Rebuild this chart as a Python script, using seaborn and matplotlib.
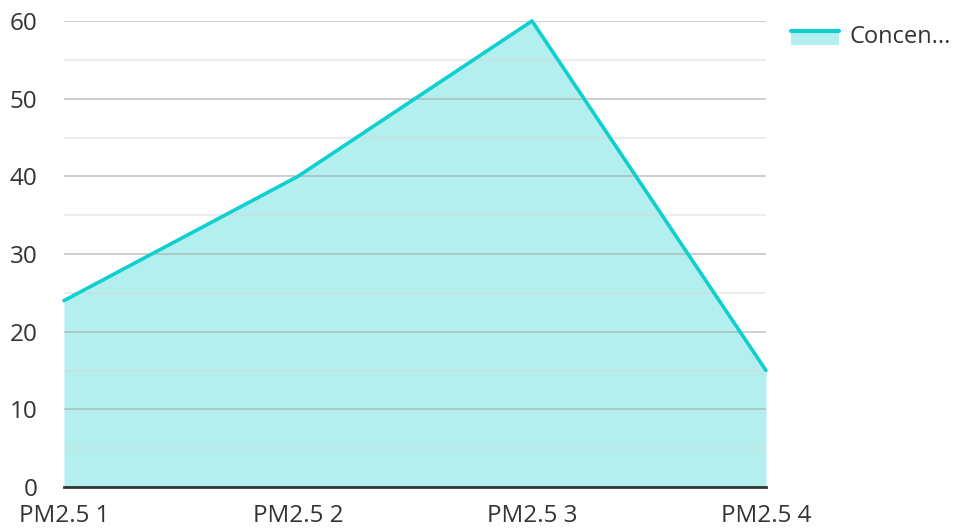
import numpy as np
import pandas as pd
import matplotlib
matplotlib.use('Agg')
import matplotlib.pyplot as plt
from matplotlib.legend_handler import HandlerBase
from matplotlib.patches import Rectangle
from matplotlib.lines import Line2D
import seaborn as sns

# Data
categories = ['PM2.5 1', 'PM2.5 2', 'PM2.5 3', 'PM2.5 4']
concentration = [24, 40, 60, 15]
series_label = 'Concen...'

line_color = '#0fcfcf'
fill_color = '#b2efee'

df = pd.DataFrame({'pos': np.arange(len(categories)), 'value': concentration})

sns.set_theme(style='white')
plt.rcParams['font.family'] = ['Open Sans', 'DejaVu Sans']

fig = plt.figure(figsize=(9.58, 5.29), dpi=100)
ax = fig.add_axes([64 / 958, 1 - 487 / 529, (766 - 64) / 958, (487 - 21) / 529])

ax.fill_between(df['pos'], df['value'], 0, color=fill_color, lw=0, zorder=1)
sns.lineplot(data=df, x='pos', y='value', ax=ax, color=line_color, lw=2.6,
             zorder=4, clip_on=False, label=series_label)

ax.set_xlim(0, len(categories) - 1)
ax.set_ylim(0, 60)
ax.set_xticks(df['pos'])
ax.set_xticklabels(categories)
ax.set_yticks(np.arange(0, 61, 10))
ax.set_yticks(np.arange(5, 60, 10), minor=True)

# grid lines sit on top of the area
for y in np.arange(10, 61, 10):
    ax.axhline(y, color='#a8a8a8', lw=1.1, alpha=0.7, zorder=2)
for y in np.arange(5, 60, 10):
    ax.axhline(y, color='#d8d8d8', lw=1.1, alpha=0.6, zorder=2)

for s in ['top', 'right', 'left']:
    ax.spines[s].set_visible(False)
ax.spines['bottom'].set_color('#333333')
ax.spines['bottom'].set_linewidth(2)
ax.spines['bottom'].set_zorder(5)

ax.tick_params(axis='both', which='both', length=0, labelsize=17.5, labelcolor='#333333')
ax.tick_params(axis='x', pad=12)
ax.tick_params(axis='y', pad=19)
ax.set_xlabel('')
ax.set_ylabel('')


class AreaHandler(HandlerBase):
    def create_artists(self, legend, orig, xd, yd, w, h, fontsize, trans):
        rect = Rectangle((xd, yd - 0.1 * h), w, h * 0.95, fc=fill_color, lw=0, transform=trans)
        line = Line2D([xd, xd + w], [yd + 0.85 * h] * 2, color=line_color, lw=3, transform=trans)
        return [rect, line]


handle = ax.get_lines()[0]
ax.legend([handle], [series_label], handler_map={Line2D: AreaHandler()},
          loc='upper left', bbox_to_anchor=(791 / 958, 1 - 25 / 529),
          bbox_transform=fig.transFigure, frameon=False, fontsize=17,
          handlelength=2.05, handleheight=0.6, handletextpad=0.42, borderpad=0,
          borderaxespad=0, labelcolor='#333333')

fig.savefig('out.png', dpi=100)
